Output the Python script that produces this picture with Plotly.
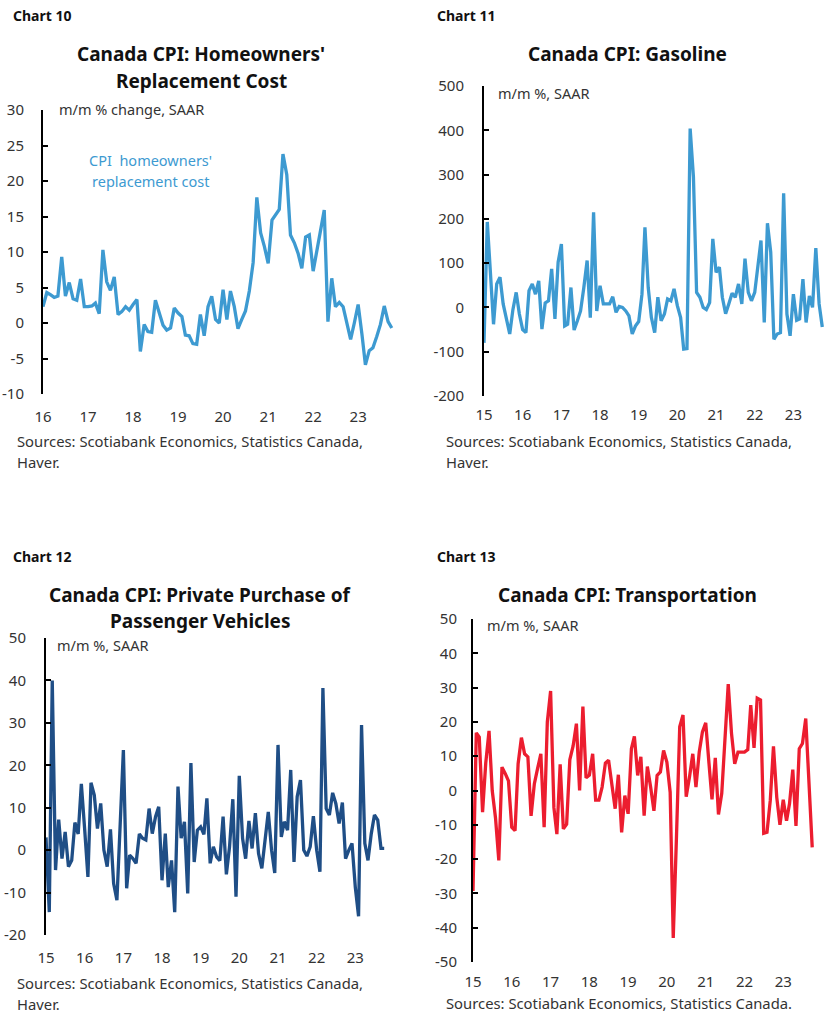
import pandas as pd
import plotly.graph_objects as go

W, H = 828, 1023
FONT = "Noto Sans"
TEXT = "#333333"

# m/m % change, SAAR
HOMEOWNERS = [  # Jan 2016 - Oct 2023
    2.3, 4.3, 4.0, 3.6, 3.8, 9.3, 3.8, 5.7, 3.4, 3.2, 6.2, 2.3,
    2.3, 2.4, 2.8, 1.3, 10.3, 5.8, 4.6, 6.5, 1.2, 1.6, 2.3, 1.8,
    2.6, 3.3, -4.0, -0.2, -1.2, -1.3, 3.2, 1.3, -0.3, -1.0, -0.7, 2.1,
    1.4, 0.9, -1.7, -1.8, -2.9, -3.0, 1.2, -1.8, 2.3, 3.75, 0.5, 0.0,
    4.7, 0.5, 4.5, 2.3, -0.8, 0.5, 1.7, 4.5, 8.5, 17.7, 12.7, 10.8,
    8.4, 14.5, 15.2, 16.0, 23.8, 20.9, 12.4, 11.3, 9.8, 7.7, 12.1, 12.4,
    7.3, 10.5, 13.1, 15.9, 0.2, 6.3, 2.3, 2.9, 2.3, 0.0, -2.3, 0.0,
    2.6, -1.6, -5.9, -3.9, -3.5, -1.9, -0.2, 2.4, 0.2, -0.7,
]
GASOLINE = [  # Jan 2015 - Oct 2023
    -80, 193, 85, -38, 53, 68, 8, -30, -60, -5, 34, -15,
    -50, -57, 38, 53, 30, 60, -49, 10, 15, 87, -26, 102,
    143, -42, -38, 45, -51, -30, -8, 45, 106, -23, 215, -8,
    49, 8, 8, 8, 24, -11, 2, 0, -8, -19, -60, -42,
    -32, 30, 181, 45, -23, -57, 23, -30, -15, 19, 15, 42,
    4, -23, -94, -93, 404, 295, 34, 23, 0, -5, 11, 155,
    79, 91, 23, -14, 8, 32, 23, 53, 8, 110, 34, 15,
    34, 98, 151, -34, 190, 125, -72, -60, -57, 258, -15, -64,
    30, -29, -26, 64, -34, 26, 0, 134, 8, -44,
]
VEHICLES = [  # Jan 2015 - Oct 2023
    3, -14.6, 40, -4.7, 7.2, -2, 4.3, -3.9, -2.4, 6.5, 3.8, 15.6,
    5, -6.3, 15.9, 13, 5.1, 11, 0, -3.9, 4.9, -7.9, -11.8, 3.9,
    23.6, -9, -1.2, -2, -3.1, 3.8, 2.8, 2.4, 9.8, 3.9, 7.9, 10.2,
    -7.1, 3.9, -8.7, -2.4, -14.6, 15, 2.8, 6.7, -10.2, 20.5, -2.8, 4.7,
    5.5, 3.7, 12.2, -3.1, 0.8, -1.6, -2.5, 7.9, -5.7, 0.8, 12, -11,
    17.5, 2.8, -2, 6.9, 0.4, 8.7, -0.8, -4.3, 2.8, 9, 0, -5.4,
    24.8, 3.1, 6.7, 4.7, 18.9, -2.8, 12.6, 16.5, 0, -1.4, 0.8, 8,
    0, -5.1, 38.2, 9.8, 8.3, 13.5, 11, 6.3, 11.2, -2, 0, 1.6,
    -8.7, -15.6, 29.5, 1.6, -2.4, 3.9, 8.3, 7.1, 0.4, 0.4,
]
TRANSPORT = [  # Jan 2015 - Oct 2023
    -29.3, 16.8, 15.6, -6.3, 8, 17.4, 0, -8, -20.4, 6.8, 4.9, 2.8,
    -10.7, -11.7, 7.8, 15.4, 10.7, 9.8, -7.4, 2, 6.5, 10.7, -10.7, 20,
    29, -5, -12.7, 7.6, -11.2, -9.8, 9, 13, 19.5, 0, 24.5, 3.7,
    4.5, 10.7, -2.8, -2.8, 1, 8, 8.8, 2, -5.3, 4.6, -12.2, -1.5,
    -6.8, 12.2, 15.8, 4.4, 9.8, -7.3, 7, 1, -5.9, 4.4, 5.4, 11.7,
    8.3, -0.5, -43, -13, 18.6, 22, -1.8, 3.9, 10.7, 1, 11.2, 17.1,
    19.7, 7.8, -2.6, 9.5, -7, -0.8, 14, 31, 16.6, 7.8, 11.2, 11.2,
    11.2, 11.9, 24.9, 12.4, 26.9, 26.4, -12.5, -12.2, -2.9, 12.9, -2, -10,
    -2.7, -8.8, -3.9, 6.1, -10.3, 12.2, 13.7, 21, 2, -16.6,
]

HOME_DATES = pd.date_range("2016-01-01", periods=len(HOMEOWNERS), freq="MS")
LONG_DATES = pd.date_range("2015-01-01", periods=len(GASOLINE), freq="MS")

C10_YTICKS = [-10, -5, 0, 5, 10, 15, 20, 25, 30]
C11_YTICKS = [-200, -100, 0, 100, 200, 300, 400, 500]
C12_YTICKS = [-20, -10, 0, 10, 20, 30, 40, 50]
C13_YTICKS = [-50, -40, -30, -20, -10, 0, 10, 20, 30, 40, 50]

SOURCES = "Sources: Scotiabank Economics, Statistics Canada,"

# pixel boxes for each panel: (left, right, top, bottom)
PANELS = [
    dict(dates=HOME_DATES, values=HOMEOWNERS, color="#3d9ad1", yticks=C10_YTICKS,
         box=(43, 394, 110, 394), start="2016-01-01", end="2023-10-19",
         ystand=14, xstand=12),
    dict(dates=LONG_DATES, values=GASOLINE, color="#3d9ad1", yticks=C11_YTICKS,
         box=(484, 828, 86, 396), start="2015-01-01", end="2023-11-24",
         ystand=15, xstand=8),
    dict(dates=LONG_DATES, values=VEHICLES, color="#1f4e86", yticks=C12_YTICKS,
         box=(46, 388, 638, 935), start="2015-01-01", end="2023-11-06",
         ystand=15, xstand=12),
    dict(dates=LONG_DATES, values=TRANSPORT, color="#ec1d2f", yticks=C13_YTICKS,
         box=(473, 817, 619, 962), start="2015-01-01", end="2023-11-15",
         ystand=11, xstand=9),
]


def px(x):
    return x / W


def py(y):
    return 1 - y / H


def label(text, x, y, size=14.5, color=TEXT, anchor="left"):
    return dict(text=text, x=px(x), y=py(y), xref="paper", yref="paper",
                xanchor=anchor, yanchor="middle", showarrow=False,
                font=dict(family=FONT, size=size, color=color))


fig = go.Figure()
layout = {}
for i, p in enumerate(PANELS, start=1):
    sfx = "" if i == 1 else str(i)
    left, right, top, bottom = p["box"]
    ymin, ymax = p["yticks"][0], p["yticks"][-1]
    zero_y = top + (ymax / (ymax - ymin)) * (bottom - top)
    fig.add_trace(go.Scatter(
        x=p["dates"], y=p["values"], mode="lines", xaxis=f"x{sfx}", yaxis=f"y{sfx}",
        line=dict(color=p["color"], width=3.3), showlegend=False, hoverinfo="skip",
    ))
    common_x = dict(type="date", range=[p["start"], p["end"]], tick0="2015-01-01",
                    dtick="M12", showgrid=False, zeroline=False, automargin=False)
    layout[f"xaxis{sfx}"] = dict(
        common_x, domain=[px(left), px(right)], anchor=f"y{sfx}", tickformat="%y",
        showline=False, ticks="", ticklabelstandoff=p["xstand"],
        tickfont=dict(family=FONT, size=15, color=TEXT),
    )
    # second axis only to draw the zero line with its year ticks
    layout[f"xaxis{i + 4}"] = dict(
        common_x, overlaying=f"x{sfx}", anchor="free", position=py(zero_y),
        showticklabels=False, ticks="outside", ticklen=5, tickwidth=1.5,
        tickcolor="black", showline=True, linecolor="black", linewidth=2,
        layer="below traces",
    )
    layout[f"yaxis{sfx}"] = dict(
        domain=[py(bottom), py(top)], anchor=f"x{sfx}", range=[ymin, ymax],
        tickvals=p["yticks"], ticktext=[str(v) for v in p["yticks"]],
        ticks="inside", ticklen=5, tickwidth=1.5, tickcolor="black",
        showline=True, linecolor="black", linewidth=2, showgrid=False,
        zeroline=False, ticklabelstandoff=p["ystand"], automargin=False,
        tickfont=dict(family=FONT, size=15, color=TEXT),
    )

annotations = [
    label("<b>Chart 10</b>", 11, 16, 14, "#111"),
    label("<b>Chart 11</b>", 435, 16, 14, "#111"),
    label("<b>Chart 12</b>", 11, 556, 14, "#111"),
    label("<b>Chart 13</b>", 435, 556, 14, "#111"),
    label("<b>Canada CPI: Homeowners'</b>", 201, 54, 19, "#111", "center"),
    label("<b>Replacement Cost</b>", 201, 81, 19, "#111", "center"),
    label("<b>Canada CPI: Gasoline</b>", 627, 54, 19, "#111", "center"),
    label("<b>Canada CPI: Private Purchase of</b>", 200, 595, 19, "#111", "center"),
    label("<b>Passenger Vehicles</b>", 200, 621, 19, "#111", "center"),
    label("<b>Canada CPI: Transportation</b>", 627, 595, 19, "#111", "center"),
    label("m/m % change, SAAR", 57, 109),
    label("m/m %, SAAR", 496, 93),
    label("m/m %, SAAR", 55, 645),
    label("m/m %, SAAR", 485, 625),
    label("CPI\u00a0 homeowners'", 150, 160, 14.5, "#3d9ad1", "center"),
    label("replacement cost", 150, 181, 14.5, "#3d9ad1", "center"),
    label(SOURCES, 15, 441, 14.8),
    label("Haver.", 15, 462, 14.8),
    label(SOURCES, 444, 441, 14.8),
    label("Haver.", 444, 462, 14.8),
    label(SOURCES, 15, 983, 14.8),
    label("Haver.", 15, 1004, 14.8),
    label("Sources: Scotiabank Economics, Statistics Canada.", 444, 1003, 14.8),
]

fig.update_layout(
    **layout,
    annotations=annotations,
    width=W,
    height=H,
    margin=dict(l=0, r=0, t=0, b=0),
    paper_bgcolor="white",
    plot_bgcolor="white",
    hovermode=False,
    font=dict(family=FONT, color=TEXT),
)

# drop the default body margin so the figure fills the 828x1023 window exactly
fig.write_html("out.html", config={"displayModeBar": False},
               post_script="document.body.style.margin = '0';")
